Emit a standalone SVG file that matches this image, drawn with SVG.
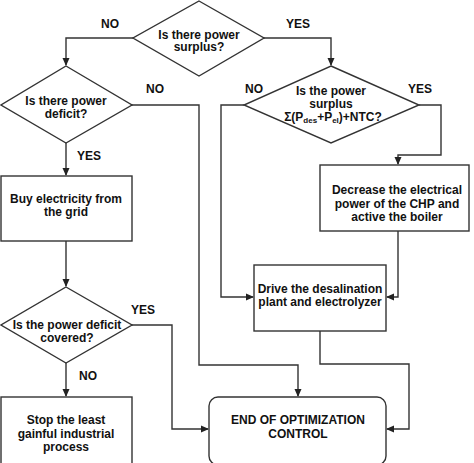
<svg xmlns="http://www.w3.org/2000/svg" width="474" height="463" viewBox="0 0 474 463">
<style>
.s{fill:#fff;stroke:#333;stroke-width:1.4}
.c{fill:none;stroke:#333;stroke-width:1.4}
text{font-family:"Liberation Sans",Arial,sans-serif;font-weight:bold;font-size:12px;fill:#111;text-anchor:middle}
.sub{font-size:8px}
</style>
<defs>
<marker id="a" markerWidth="8" markerHeight="8" refX="7" refY="4" orient="auto" markerUnits="userSpaceOnUse">
<path d="M0,0.5 L8,4 L0,7.5 Z" fill="#222"/>
</marker>
</defs>
<rect width="474" height="463" fill="#fff"/>
<g id="connectors">
<path class="c" d="M133,38 H66 V65" marker-end="url(#a)"/>
<path class="c" d="M264,38 H331 V65" marker-end="url(#a)"/>
<path class="c" d="M132,105 H199 V365 H298 V396" marker-end="url(#a)"/>
<path class="c" d="M66,143 V175" marker-end="url(#a)"/>
<path class="c" d="M66,241 V286" marker-end="url(#a)"/>
<path class="c" d="M132,325 H172 V429 H208" marker-end="url(#a)"/>
<path class="c" d="M66,363 V396" marker-end="url(#a)"/>
<path class="c" d="M419,105 H441 V155 H398 V164" marker-end="url(#a)"/>
<path class="c" d="M244,105 H221 V297 H253" marker-end="url(#a)"/>
<path class="c" d="M398,231 V297 H387" marker-end="url(#a)"/>
<path class="c" d="M320,331 V364 H409 V429 H387" marker-end="url(#a)"/>
</g>
<g id="labels">
<text x="110" y="28">NO</text>
<text x="298" y="28">YES</text>
<text x="155" y="93">NO</text>
<text x="89" y="160">YES</text>
<text x="254" y="93">NO</text>
<text x="420" y="93">YES</text>
<text x="143" y="314">YES</text>
<text x="88" y="380">NO</text>
</g>
<g id="d1">
<polygon class="s" points="199,1 264,38 199,76 133,38"/>
<text x="199" y="38.5">Is there power</text>
<text x="199" y="51">surplus?</text>
</g>
<g id="d2">
<polygon class="s" points="66,66 132,105 66,143 1,105"/>
<text x="66" y="105">Is there power</text>
<text x="66" y="118">deficit?</text>
</g>
<g id="d3">
<polygon class="s" points="331,66 419,105 331,143 244,105"/>
<text x="331" y="95">Is the power</text>
<text x="331" y="108">surplus</text>
<text x="333" y="121">Σ(P<tspan class="sub" dy="2">des</tspan><tspan dy="-2">+P</tspan><tspan class="sub" dy="2">el</tspan><tspan dy="-2">)+NTC?</tspan></text>
</g>
<g id="buy">
<rect class="s" x="1" y="176" width="131" height="65"/>
<text x="66" y="203">Buy electricity from</text>
<text x="66" y="216">the grid</text>
</g>
<g id="d4">
<polygon class="s" points="66,287 132,325 66,363 1,325"/>
<text x="67" y="329">Is the power deficit</text>
<text x="67" y="342">covered?</text>
</g>
<g id="stop">
<rect class="s" x="1" y="397" width="131" height="72"/>
<text x="66" y="424">Stop the least</text>
<text x="66" y="437.5">gainful industrial</text>
<text x="66" y="451">process</text>
</g>
<g id="decrease">
<rect class="s" x="320" y="165" width="149" height="66"/>
<text x="397" y="194">Decrease the electrical</text>
<text x="397" y="207.5">power of the CHP and</text>
<text x="397" y="221">active the boiler</text>
</g>
<g id="drive">
<rect class="s" x="254" y="265" width="132" height="66"/>
<text x="320" y="293">Drive the desalination</text>
<text x="320" y="306">plant and electrolyzer</text>
</g>
<g id="end">
<rect class="s" x="209" y="397" width="177" height="68" rx="9"/>
<text x="298" y="424">END OF OPTIMIZATION</text>
<text x="298" y="438">CONTROL</text>
</g>
</svg>
